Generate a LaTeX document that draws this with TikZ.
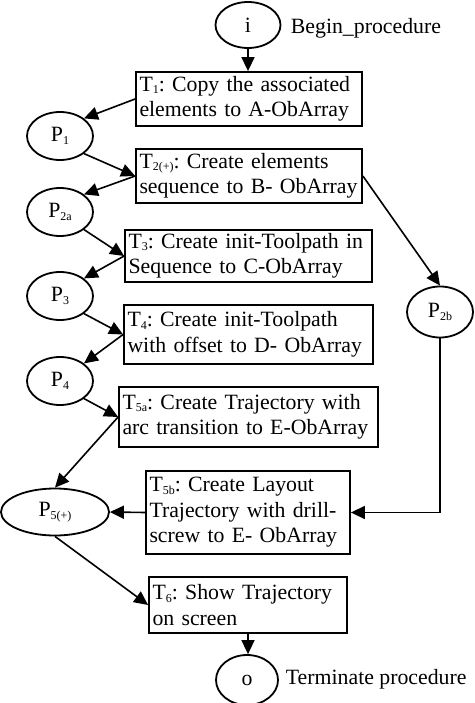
\documentclass[tikz,border=0pt]{standalone}
\usepackage{fontspec}
\setmainfont{Liberation Serif}
\usetikzlibrary{arrows.meta,shapes.geometric}
\newcommand\sbs[1]{\raisebox{-0.25ex}{\fontsize{12}{12}\selectfont #1}}
\frenchspacing
\begin{document}
\begin{tikzpicture}[x=1pt,y=-1pt, line width=1.8pt,
  every node/.style={font=\fontsize{21.8}{25.5}\selectfont},
  place/.style={draw, ellipse, inner sep=0pt, minimum width=66pt, minimum height=48pt},
  trans/.style={draw, rectangle, align=left, inner xsep=3.5pt, inner ysep=0pt},
  lbl/.style={anchor=base west, inner sep=0pt},
  arr/.style={line width=1.6pt, -{Triangle[length=14pt,width=13pt]}}]
\useasboundingbox (0,0) rectangle (474,703);
% places
\node[place, minimum width=65pt, minimum height=46pt] (i) at (248,25) {i};
\node[place] (P1) at (60,136) {P\sbs{1}};
\node[place] (P2a) at (60,212) {P\sbs{2a}};
\node[place] (P3) at (60,296) {P\sbs{3}};
\node[place] (P4) at (60,381) {P\sbs{4}};
\node[place, minimum height=51pt] (P2b) at (440,312) {P\sbs{2b}};
\node[place, minimum width=108pt, minimum height=47pt] (P5) at (55,512) {P\sbs{5(+)}};
\node[place, minimum width=62pt, minimum height=50pt] (o) at (247,680) {o};
% labels
\node[lbl] (lb) at (290,34) {Begin\_procedure};
\node[lbl] (lt) at (285,684) {Terminate procedure};
% transitions
\node[trans, text width=219pt, minimum height=54pt] (T1) at (249,99)
  {\mbox{T\sbs{1}: Copy the associated}\\\mbox{elements to A-ObArray}};
\node[trans, text width=219pt, minimum height=54pt] (T2) at (249,176)
  {\mbox{T\sbs{2(+)}: Create elements}\\\mbox{sequence to B- ObArray}};
\node[trans, text width=240pt, minimum height=52pt] (T3) at (248.5,256)
  {\mbox{T\sbs{3}: Create init-Toolpath in}\\\mbox{Sequence to C-ObArray}};
\node[trans, text width=242pt, minimum height=59pt] (T4) at (248.5,334.5)
  {\mbox{T\sbs{4}: Create init-Toolpath}\\\mbox{with offset to D- ObArray}};
\node[trans, text width=252pt, minimum height=60pt] (T5a) at (248.5,417)
  {\mbox{T\sbs{5a}: Create Trajectory with}\\\mbox{arc transition to E-ObArray}};
\node[trans, text width=197pt, minimum height=83pt] (T5b) at (248,512.5)
  {\mbox{T\sbs{5b}: Create Layout}\\\mbox{Trajectory with drill-}\\\mbox{screw to E- ObArray}};
\node[trans, text width=191pt, minimum height=56pt] (T6) at (248,605)
  {\mbox{T\sbs{6}: Show Trajectory}\\\mbox{on screen}};
% arcs
\draw[arr] (i.south) -- (i.south |- T1.north);
\draw[arr] (T1.west) -- (P1.north east);
\draw[arr] (P1.south east) -- (T2.west);
\draw[arr] (T2.west) -- (P2a.north east);
\draw[arr] (P2a.south east) -- (T3.west);
\draw[arr] (T3.west) -- (P3.north east);
\draw[arr] (P3.south east) -- (T4.west);
\draw[arr] (T4.west) -- (P4.north east);
\draw[arr] (P4.south east) -- (T5a.west);
\draw[arr] (T5a.west) -- (P5.north);
\draw[arr] (T2.east) -- (P2b.north);
\draw[arr] (P2b.south) |- (T5b.east);
\draw[arr] (T5b.west) -- (P5.east);
\draw[arr] (P5.south) -- (T6.west);
\draw[arr] (T6.south) -- (T6.south |- o.north);
\end{tikzpicture}
\end{document}
